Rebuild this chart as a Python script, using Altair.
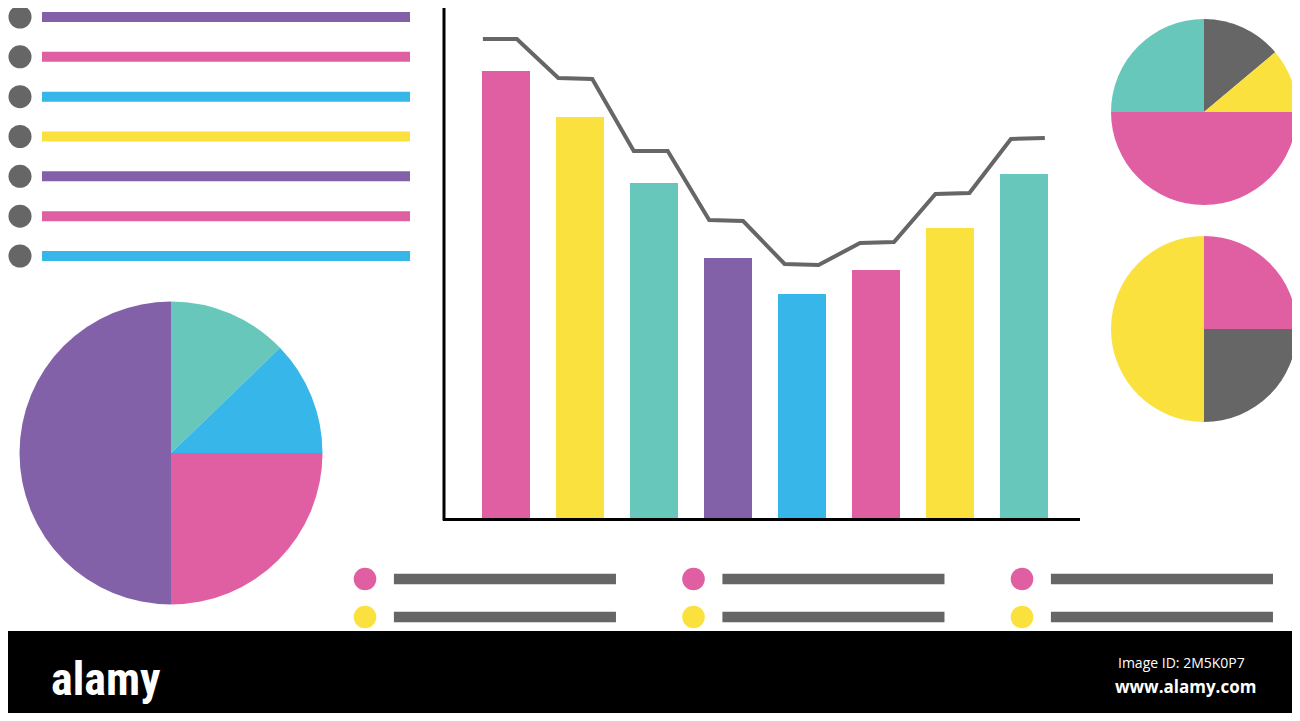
import altair as alt
import pandas as pd

# ---------------- colours ----------------
PURPLE = "#8261a9"
PINK = "#e05fa2"
BLUE = "#37b6e9"
YELLOW = "#fbe13d"
TEAL = "#67c7bb"
GRAY = "#666666"

# ---------------- data ----------------
list_colors = [PURPLE, PINK, BLUE, YELLOW, PURPLE, PINK, BLUE]

big_pie_values = [46, 44, 90, 180]
big_pie_colors = [TEAL, BLUE, PINK, PURPLE]

top_pie_values = [50, 40, 180, 90]
top_pie_colors = [GRAY, YELLOW, PINK, TEAL]

low_pie_values = [90, 90, 180]
low_pie_colors = [PINK, GRAY, YELLOW]

bar_values = [89.6, 80.4, 67.2, 52.2, 45.0, 49.8, 58.2, 69.0]
bar_colors = [PINK, YELLOW, TEAL, PURPLE, BLUE, PINK, YELLOW, TEAL]
line_left = [96.0, 88.2, 73.6, 59.8, 51.0, 55.2, 65.0, 76.0]
line_right = [96.0, 88.0, 73.6, 59.6, 50.8, 55.4, 65.2, 76.2]

legend_dot_colors = [PINK, YELLOW]
legend_columns = [0, 1, 2]

footer_logo = "alamy"
footer_id = "Image ID: 2M5K0P7"
footer_url = "www.alamy.com"

W, H = 1284, 705

# ---------------- tables ----------------
list_df = pd.DataFrame({"r": list(range(len(list_colors))), "c": list_colors})


def pie_df(values, colors):
    return pd.DataFrame({"k": list(range(len(values))), "v": values, "c": colors})


bar_df = pd.DataFrame({"i": list(range(len(bar_values))), "v": bar_values, "c": bar_colors})
line_rows = []
for i, (a, b) in enumerate(zip(line_left, line_right)):
    line_rows.append({"x": i - 0.24, "v": a})
    line_rows.append({"x": i + 0.21, "v": b})
line_df = pd.DataFrame(line_rows)

leg_rows = []
for col in legend_columns:
    for r, c in enumerate(legend_dot_colors):
        leg_rows.append({"col": col, "r": r, "c": c,
                         "s": col + 0.088, "e": col + 0.764})
leg_df = pd.DataFrame(leg_rows)

dummy = pd.DataFrame({"a": [0]})

# ---------------- left list ----------------
list_y = alt.Y("r:Q", axis=None, scale=alt.Scale(domain=[0, 6], range=[9, 248], nice=False, zero=False))
list_lines = alt.Chart(list_df).mark_rule(strokeWidth=10).encode(
    x=alt.value(34), x2=alt.value(402), y=list_y,
    color=alt.Color("c:N", scale=None),
)
list_dots = alt.Chart(list_df).mark_circle(size=531, opacity=1, color=GRAY).encode(
    x=alt.value(12), y=list_y,
)


# ---------------- pies ----------------
def pie(values, colors, cx, cy, r):
    return alt.Chart(pie_df(values, colors)).mark_arc(outerRadius=r).encode(
        theta=alt.Theta("v:Q", stack=True),
        color=alt.Color("c:N", scale=None),
        order=alt.Order("k:Q", sort="ascending"),
        x=alt.value(cx), y=alt.value(cy),
    )


big_pie = pie(big_pie_values, big_pie_colors, 163, 445, 151.5)
top_pie = pie(top_pie_values, top_pie_colors, 1196, 104, 93)
low_pie = pie(low_pie_values, low_pie_colors, 1196, 321, 93)

# ---------------- bar + line chart ----------------
bx = alt.Scale(domain=[0, 7], range=[493, 1021], nice=False, zero=False)
by = alt.Scale(domain=[0, 100], range=[511, 11], nice=False)
bars = alt.Chart(bar_df).mark_bar(size=48, orient="vertical").encode(
    x=alt.X("i:Q", axis=None, scale=bx),
    y=alt.Y("v:Q", axis=None, scale=by, stack=None),
    color=alt.Color("c:N", scale=None),
)
line = alt.Chart(line_df).mark_line(color=GRAY, strokeWidth=4).encode(
    x=alt.X("x:Q", axis=None, scale=bx),
    y=alt.Y("v:Q", axis=None, scale=by),
)
y_axis_line = alt.Chart(dummy).mark_rule(color="black", strokeWidth=3).encode(
    x=alt.value(436), y=alt.value(-3), y2=alt.value(512.5)
)
x_axis_line = alt.Chart(dummy).mark_rule(color="black", strokeWidth=3).encode(
    x=alt.value(435), x2=alt.value(1072), y=alt.value(511.5)
)

# ---------------- bottom legend ----------------
lx = alt.Scale(domain=[0, 2], range=[357, 1014], nice=False, zero=False)
ly = alt.Scale(domain=[0, 1], range=[571, 609], nice=False, zero=False)
leg_dots = alt.Chart(leg_df).mark_circle(size=511, opacity=1).encode(
    x=alt.X("col:Q", axis=None, scale=lx),
    y=alt.Y("r:Q", axis=None, scale=ly),
    color=alt.Color("c:N", scale=None),
)
leg_bars = alt.Chart(leg_df).mark_rule(strokeWidth=10.5, color=GRAY).encode(
    x=alt.X("s:Q", axis=None, scale=lx),
    x2="e:Q",
    y=alt.Y("r:Q", axis=None, scale=ly),
)

# ---------------- footer band ----------------
band = alt.Chart(dummy).mark_rect(color="black").encode(
    x=alt.value(-10), x2=alt.value(W + 10), y=alt.value(623), y2=alt.value(H + 10)
)
logo = alt.Chart(pd.DataFrame({"t": [footer_logo]})).mark_text(
    font="'Roboto Condensed', 'DejaVu Sans Condensed', 'Liberation Sans Narrow', Roboto, sans-serif",
    fontWeight="bold", fontSize=46, color="white",
    align="left", baseline="alphabetic",
).encode(text="t:N", x=alt.value(43), y=alt.value(687))
img_id = alt.Chart(pd.DataFrame({"t": [footer_id]})).mark_text(
    font="Open Sans", fontSize=14, color="white", align="left", baseline="alphabetic",
).encode(text="t:N", x=alt.value(1110), y=alt.value(660))
url = alt.Chart(pd.DataFrame({"t": [footer_url]})).mark_text(
    font="Open Sans", fontWeight="bold", fontSize=17, color="white", align="left",
    baseline="alphabetic",
).encode(text="t:N", x=alt.value(1107), y=alt.value(685))

chart = alt.layer(
    list_lines, list_dots, big_pie, top_pie, low_pie,
    bars, line, y_axis_line, x_axis_line,
    leg_dots, leg_bars, band, logo, img_id, url,
).resolve_scale(
    x="independent", y="independent", theta="independent", color="independent"
).properties(
    width=W, height=H, padding=0,
    autosize=alt.AutoSizeParams(type="none"),
).configure_view(stroke=None)

chart.save("out.html", embed_options={"renderer": "svg", "actions": False})
